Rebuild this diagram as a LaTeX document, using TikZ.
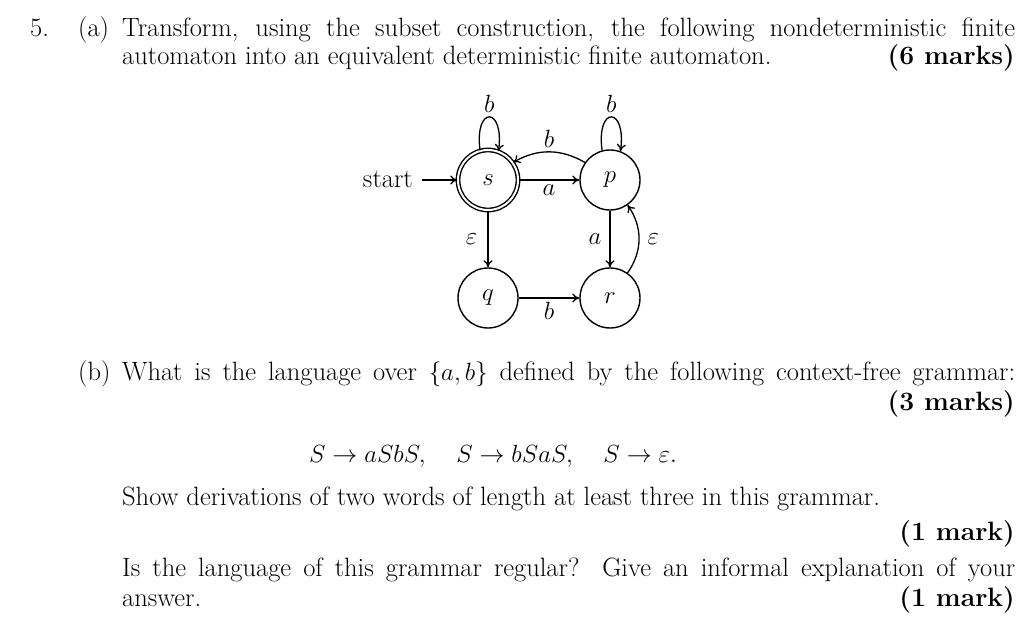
\documentclass[tikz,border=0pt]{standalone}
\usetikzlibrary{arrows.meta,automata}
\begin{document}
\begin{tikzpicture}[x=1pt,y=-1pt,font=\fontsize{26.5}{30}\selectfont,
  st/.style={circle,draw,line width=1.4pt,minimum size=60pt,inner sep=0pt},
  ln/.style={anchor=base west,inner sep=0pt},
  rt/.style={anchor=base east,inner sep=0pt},
  edge/.style={line width=1.3pt,-{To[length=7pt,width=9pt]}},
  lab/.style={inner sep=4pt}]
\useasboundingbox (0,0) rectangle (1024,628);
\node[ln] (n5) at (30,37) {5.};
\node[ln] (na) at (78,37) {(a)};
\node[ln] (l1) at (122,37) {\makebox[893pt][s]{Transform, using the subset construction, the following nondeterministic finite}};
\node[ln] (l2) at (122,65) {automaton into an equivalent deterministic finite automaton.};
\node[rt] (m1) at (1015,65) {\textbf{(6 marks)}};

\node[st,double,double distance=2pt] (s) at (488,180) {$s$};
\node[st] (p) at (610,180) {$p$};
\node[st] (q) at (488,298) {$q$};
\node[st] (r) at (610,298) {$r$};
\node[anchor=base east,inner sep=0pt] (start) at (413,188) {start};
\coordinate (c0) at (422,180);
\draw[edge] (c0) -- (s);
\draw[edge] (s.105) .. controls +(-6,-45) and +(6,-45) .. node[lab,above]{$b$} (s.70);
\draw[edge] (p.105) .. controls +(-6,-45) and +(6,-45) .. node[lab,above]{$b$} (p.70);
\draw[edge] (s) -- node[lab,below]{$a$} (p);
\draw[edge] (p.145) to[bend right=30] node[lab,above]{$b$} (s.35);
\draw[edge] (s) -- node[lab,left,inner sep=10pt]{$\varepsilon$} (q);
\draw[edge] (q) -- node[lab,below]{$b$} (r);
\draw[edge] (p) -- node[lab,left,inner sep=8pt]{$a$} (r);
\draw[edge] (r.55) to[bend right=35] node[lab,right,inner sep=8pt]{$\varepsilon$} (p.-55);

\node[ln] (nb) at (78,380) {(b)};
\node[ln] (l3) at (122,380) {\makebox[893pt][s]{What is the language over $\{a,b\}$ defined by the following context-free grammar:}};
\node[rt] (m2) at (1015,410) {\textbf{(3 marks)}};
\node[anchor=base,inner sep=0pt] (g) at (493,462) {$S\to aSbS,\quad S\to bSaS,\quad S\to\varepsilon.$};
\node[ln] (l4) at (122,505) {Show derivations of two words of length at least three in this grammar.};
\node[rt] (m3) at (1015,540) {\textbf{(1 mark)}};
\node[ln] (l5) at (122,576) {\makebox[893pt][s]{Is the language of this grammar regular? Give an informal explanation of your}};
\node[ln] (l6) at (122,606) {answer.};
\node[rt] (m4) at (1015,606) {\textbf{(1 mark)}};
\end{tikzpicture}
\end{document}
